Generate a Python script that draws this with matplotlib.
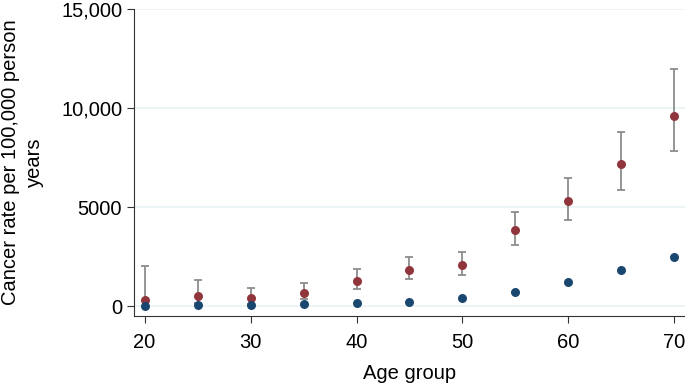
import matplotlib
matplotlib.use("Agg")
import matplotlib.pyplot as plt
import numpy as np

age = [20, 25, 30, 35, 40, 45, 50, 55, 60, 65, 70]
rate_red = [300, 500, 390, 650, 1280, 1820, 2090, 3840, 5300, 7170, 9580]
red_lo = [0, 150, 120, 350, 870, 1350, 1580, 3110, 4340, 5870, 7830]
red_hi = [2030, 1310, 925, 1190, 1880, 2470, 2740, 4730, 6460, 8770, 11980]
rate_blue = [30, 50, 60, 100, 140, 200, 400, 720, 1210, 1820, 2460]
yticks = [0, 5000, 10000, 15000]
ytick_labels = ["0", "5000", "10,000", "15,000"]
xticks = [20, 30, 40, 50, 60, 70]

plt.rcParams['font.family'] = ['Liberation Sans', 'DejaVu Sans']

fig = plt.figure(figsize=(6.85, 3.85), dpi=100)
ax = fig.add_axes([0.1956, 0.179, 0.8044, 0.798])

for y in yticks:
    ax.axhline(y, color='#eaf2f3', lw=1.2, zorder=0)

r = np.array(rate_red)
yerr = [r - np.array(red_lo), np.array(red_hi) - r]
ax.errorbar(age, rate_red, yerr=yerr, fmt='none', ecolor='#8c8c8c', elinewidth=1.3,
            capsize=3, capthick=1.3, zorder=2)
ax.scatter(age, rate_red, s=42, color='#90353b', zorder=3, linewidths=0)
ax.scatter(age, rate_blue, s=42, color='#1a476f', zorder=3, linewidths=0)

ax.set_xlim(19, 71)
ax.set_ylim(-500, 15000)
ax.set_xticks(xticks)
ax.set_yticks(yticks)
ax.set_yticklabels(ytick_labels)
ax.tick_params(axis='both', labelsize=14.5, length=5, width=0.8, color='#333333')
ax.tick_params(axis='x', pad=7)
ax.spines['top'].set_visible(False)
ax.spines['right'].set_visible(False)
ax.spines['left'].set_color('#333333')
ax.spines['bottom'].set_color('#333333')
ax.set_xlabel("Age group", fontsize=14.5, labelpad=9)
ax.set_ylabel("Cancer rate per 100,000 person\nyears", fontsize=14.5, labelpad=12, linespacing=1.35)

fig.savefig("out.png", dpi=100)
